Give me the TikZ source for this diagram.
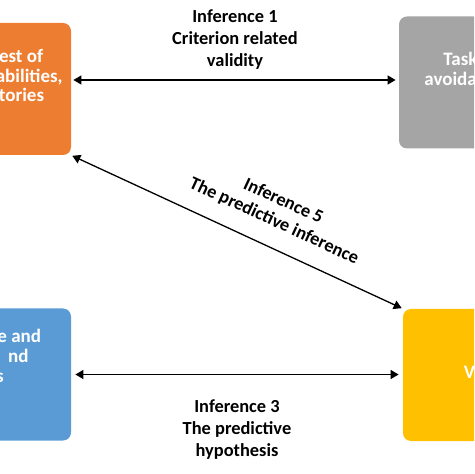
\documentclass[tikz,border=0pt]{standalone}
\usepackage{fontspec}
\setmainfont{Carlito}
\usetikzlibrary{arrows.meta}
\definecolor{boxorange}{HTML}{ED7D31}
\definecolor{boxgray}{HTML}{A5A5A5}
\definecolor{boxblue}{HTML}{5B9BD5}
\definecolor{boxyellow}{HTML}{FFC000}
\tikzset{
	infobox/.style={rounded corners=4pt, minimum width=70.5pt, minimum height=66pt, inner sep=0pt},
	boxtext/.style={text=white, font=\fontsize{9.5}{10}\selectfont\bfseries, inner sep=0pt},
	link/.style={<->, line width=0.65pt},
	linklabel/.style={align=center, font=\fontsize{9.2}{11}\selectfont\bfseries}
}
\begin{document}
\begin{tikzpicture}[x=0.5pt, y=-0.5pt, >={Triangle[length=4pt,width=4.5pt]}]
		\useasboundingbox (0,0) rectangle (474,474);
		\clip (0,0) rectangle (474,474);
		
		\node[infobox, fill=boxorange] (test) at (0.5,89) {};
		\node[infobox, fill=boxgray] (task) at (469.5,82.5) {};
		\node[infobox, fill=boxblue] (lang) at (0.5,374.5) {};
		\node[infobox, fill=boxyellow] (val) at (473.5,375) {};
		
		% visible parts of the box texts
		\node[boxtext, anchor=base east] (t1) at (43.5,62.5) {est of};
		\node[boxtext, anchor=base east] (t2) at (63,82.5) {abilities,};
		\node[boxtext, anchor=base east] (t3) at (44.5,102) {tories};
		\node[boxtext, anchor=base west] (k1) at (443,66) {Task};
		\node[boxtext, anchor=base west] (k2) at (424,86) {avoida};
		\node[boxtext, anchor=base east] (l1) at (41.5,342) {e and};
		\node[boxtext, anchor=base east] (l2) at (29,362) {nd};
		\node[boxtext, anchor=base east] (l3) at (4,382) {s};
		\node[boxtext, anchor=base west] (v1) at (463.5,378) {V};
		
		\draw[link, shorten <=1pt, shorten >=1.5pt] ([yshift=4.5pt]test.east) -- ([yshift=4.5pt]test.east -| task.west)
			node[linklabel, midway, above=1.5pt] (inf1) {Inference 1\\Criterion related\\validity};
		\draw[link, shorten <=2pt, shorten >=2pt] (lang.east) -- (lang.east -| val.west)
			node[linklabel, midway, below=9pt] (inf3) {Inference 3\\The predictive\\hypothesis};
		\draw[link, shorten <=0.5pt, shorten >=0.5pt] (test.south east) -- (val.north west)
			node[linklabel, sloped, pos=0.58, above=5pt] (inf5) {Inference 5\\The predictive inference};
	\end{tikzpicture}
\end{document}
